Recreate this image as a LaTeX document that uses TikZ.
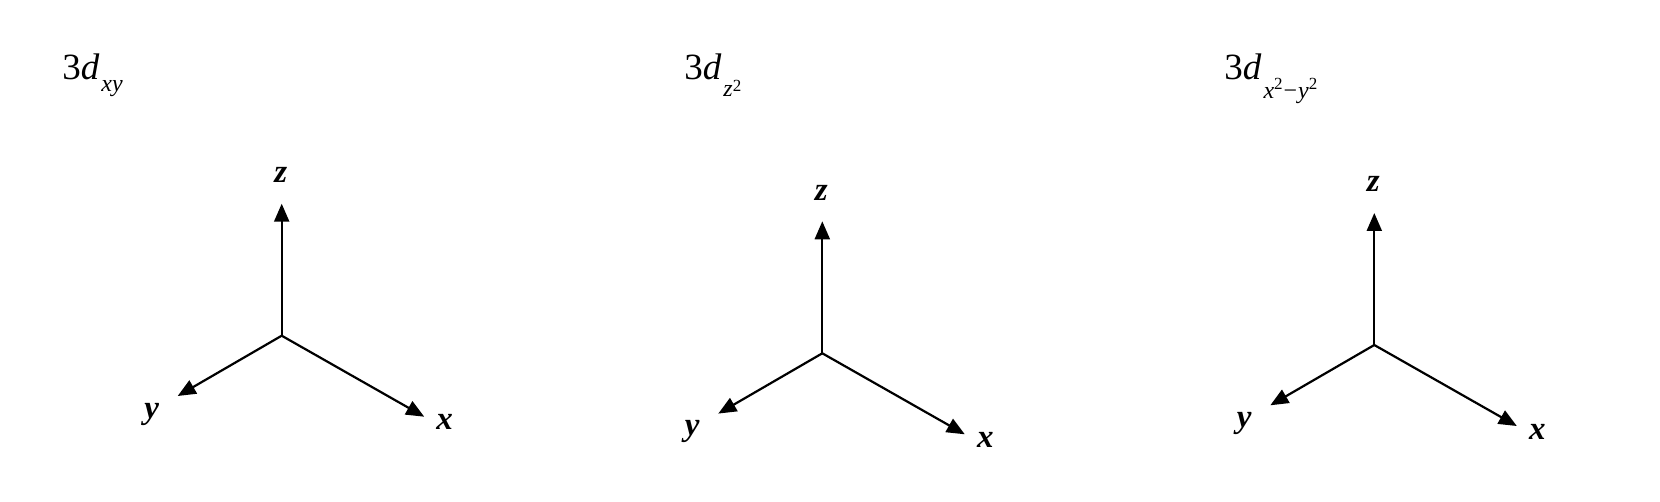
\documentclass[tikz,border=0pt]{standalone}
\usepackage{fontspec}
\setmainfont{Liberation Serif}
\usetikzlibrary{arrows.meta}
\tikzset{
  axis/.style={line width=1.1pt, -{Triangle[length=9pt,width=7.5pt]}},
  axlabel/.style={anchor=base, inner sep=0pt, font=\fontsize{16.5}{19}\selectfont\bfseries\itshape},
  orbital/.style={anchor=base west, inner sep=0pt, font=\fontsize{18.5}{22}\selectfont}
}
\newcommand{\sbs}[2]{\kern1pt\raisebox{#1}{\fontsize{12}{14}\selectfont\itshape #2}}
\newcommand{\sqr}[1]{\raisebox{#1}{\fontsize{8.5}{10}\selectfont\upshape 2}}
\begin{document}
\begin{tikzpicture}[x=0.5pt,y=-0.5pt]
  \useasboundingbox (0,0) rectangle (1660,502);
  % orbital names
  \node[orbital] (ta) at (62,80) {3\textit{d}\sbs{-5.9pt}{xy}};
  \node[orbital] (tb) at (684,80) {3\textit{d}\sbs{-8.5pt}{z\sqr{2.6pt}}};
  \node[orbital] (tc) at (1224,80) {3\textit{d}\sbs{-9.2pt}{x\sqr{4.2pt}\kern0.5pt\upshape−\kern0.5pt\itshape y\sqr{4.2pt}}};
  % axes
  \foreach \n/\ox/\oy in {a/281.7/335.7, b/822.3/353.3, c/1374.3/345} {
    \begin{scope}[shift={(\ox,\oy)}]
      \coordinate (o\n) at (0,0);
      \coordinate (z\n) at (0,-132);
      \coordinate (y\n) at (-104,60.3);
      \coordinate (x\n) at (142.5,81);
      \draw[axis] (o\n) -- (z\n);
      \draw[axis] (o\n) -- (y\n);
      \draw[axis] (o\n) -- (x\n);
      \node[axlabel] (lz\n) at (-1,-153) {z};
      \node[axlabel] (ly\n) at (-130,82.5) {y};
      \node[axlabel] (lx\n) at (163,94.2) {x};
    \end{scope}
  }
\end{tikzpicture}
\end{document}
